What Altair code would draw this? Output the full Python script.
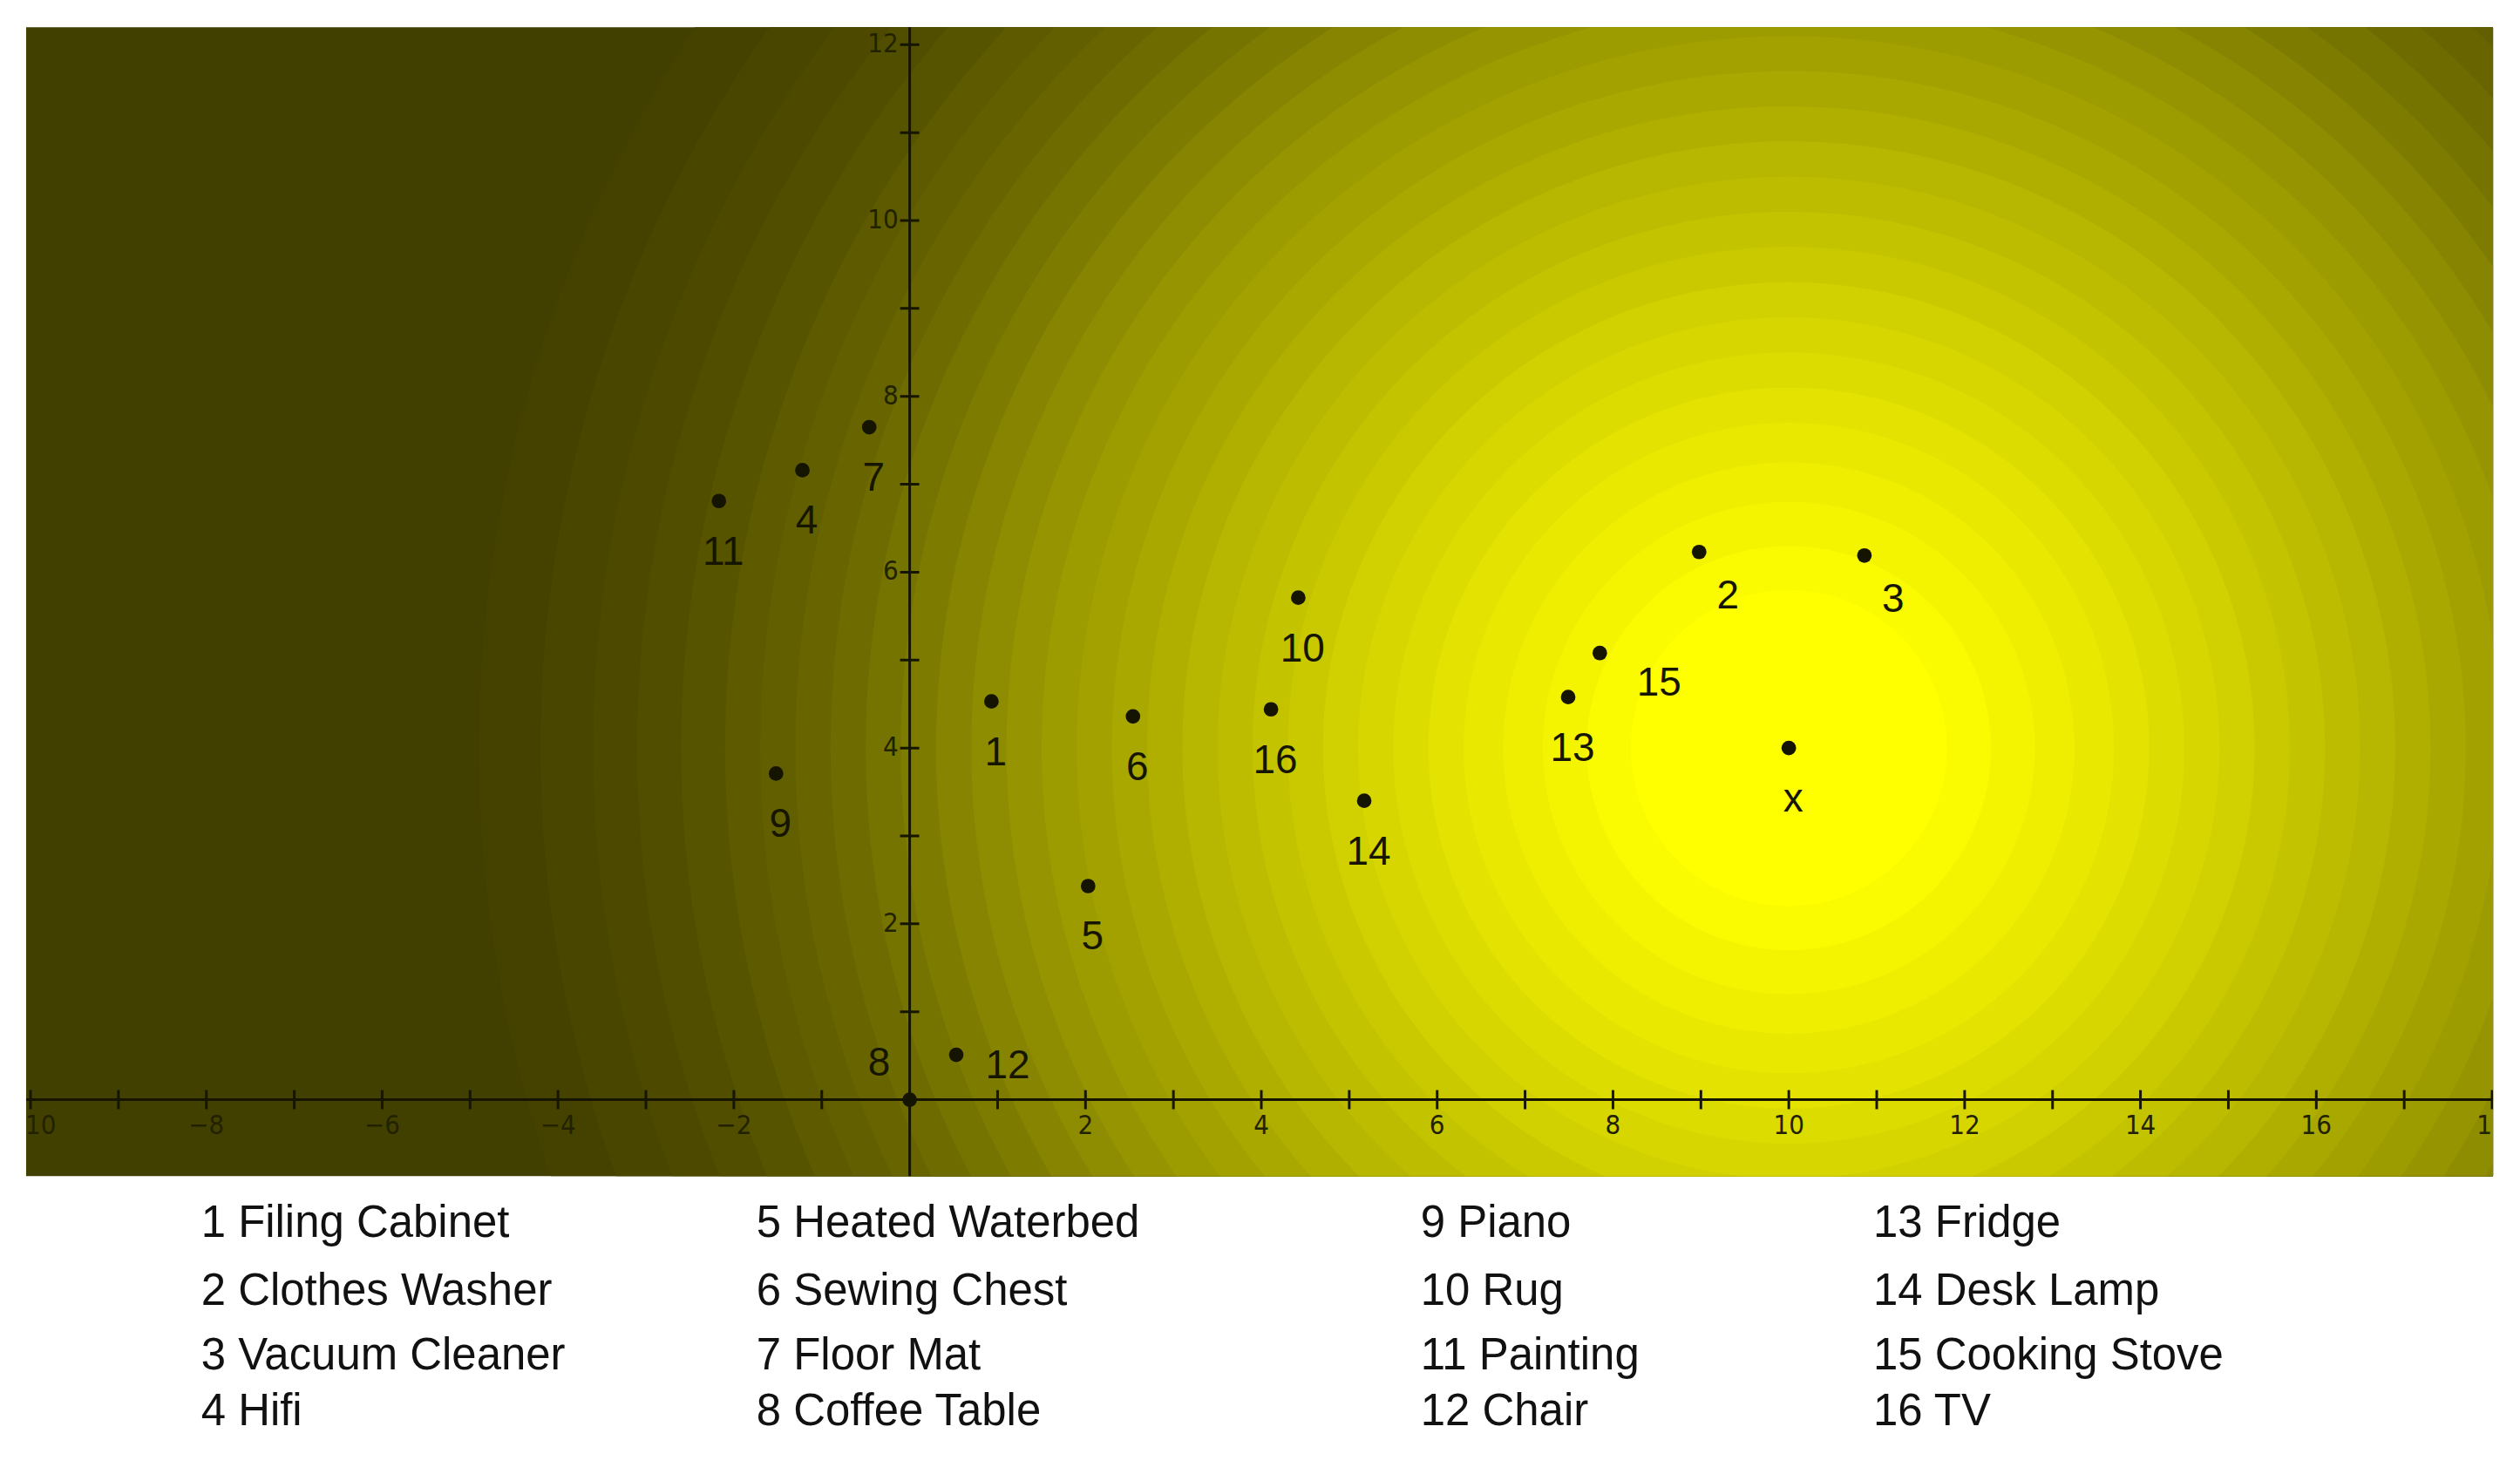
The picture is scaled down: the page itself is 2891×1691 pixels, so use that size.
import altair as alt
import pandas as pd

# ---------------- data ----------------
point_ids = ["1", "2", "3", "4", "5", "6", "7", "8", "9", "10", "11", "12", "13", "14", "15", "16", "x"]
point_x = [0.93, 8.98, 10.86, -1.22, 2.03, 2.54, -0.46, 0.0, -1.52, 4.42, -2.17, 0.53, 7.49, 5.17, 7.85, 4.11, 10.0]
point_y = [4.53, 6.23, 6.19, 7.16, 2.43, 4.36, 7.65, 0.0, 3.71, 5.71, 6.81, 0.51, 4.58, 3.40, 5.08, 4.44, 4.0]
label_place = ["below", "belowright", "belowright", "below", "below", "below", "below", "upleft",
               "below", "below", "below", "right", "below", "below", "rightbelow", "below", "below"]

item_names = ["Filing Cabinet", "Clothes Washer", "Vacuum Cleaner", "Hifi",
              "Heated Waterbed", "Sewing Chest", "Floor Mat", "Coffee Table",
              "Piano", "Rug", "Painting", "Chair",
              "Fridge", "Desk Lamp", "Cooking Stove", "TV"]

x_tick_values = list(range(-10, 19))
x_tick_labels = [-10, -8, -6, -4, -2, 2, 4, 6, 8, 10, 12, 14, 16, 18]
y_tick_values = list(range(1, 13))
y_tick_labels = [2, 4, 6, 8, 10, 12]

# background: concentric bands around the target point (10, 4)
center_x, center_y = 10.0, 4.0
band_radii = [1.8, 2.3, 2.8, 3.25, 3.7, 4.1, 4.5, 4.9, 5.3, 5.7, 6.1, 6.5, 6.9, 7.3, 7.7,
              8.1, 8.5, 8.9, 9.3, 9.7, 10.1, 10.5, 10.9, 11.3, 11.7, 12.1, 12.6, 13.1,
              13.6, 14.2, 14.9]
shade_stops = [0, 1.8, 3, 5, 7, 9, 10, 11, 12, 13, 14, 15, 22]
shade_colors = ["#ffff00", "#ffff00", "#f2f200", "#d6d500", "#b5b400", "#949200",
                "#807e00", "#6c6900", "#5e5b00", "#524f00", "#4a4700", "#444100", "#424000"]

# ---------------- layout ----------------
X_MIN, X_MAX = -10.05, 18.01
Y_MIN, Y_MAX = -0.87, 12.2
W, H = 2834, 1320
KEY_H = 310
PPU = W / (X_MAX - X_MIN)
FONT = "Liberation Sans, Arial, sans-serif"
TICK_FONT = "DejaVu Sans Condensed, Liberation Sans Narrow, sans-serif"
INK = "#161600"

xs = alt.Scale(domain=[X_MIN, X_MAX], nice=False, zero=False)
ys = alt.Scale(domain=[Y_MIN, Y_MAX], nice=False, zero=False)

pts = pd.DataFrame({"id": point_ids, "x": point_x, "y": point_y, "place": label_place})
bands = pd.DataFrame({"r": band_radii, "cx": center_x, "cy": center_y})

background = alt.Chart(bands).mark_point(
    filled=True, shape="circle", opacity=1, strokeWidth=0, clip=True
).encode(
    x=alt.X("cx:Q", scale=xs, axis=None),
    y=alt.Y("cy:Q", scale=ys, axis=None),
    size=alt.Size("r:Q", scale=alt.Scale(type="pow", exponent=2, domain=[0, 16],
                                         range=[0, (2 * 16 * PPU) ** 2]), legend=None),
    color=alt.Color("r:Q", scale=alt.Scale(domain=shade_stops, range=shade_colors,
                                           interpolate="rgb"), legend=None),
    order=alt.Order("r:Q", sort="descending"),
)

zero_df = pd.DataFrame({"v": [0]})
x_axis_line = alt.Chart(zero_df).mark_rule(color=INK, strokeWidth=3).encode(
    y=alt.Y("v:Q", scale=ys, axis=None))
y_axis_line = alt.Chart(zero_df).mark_rule(color=INK, strokeWidth=3).encode(
    x=alt.X("v:Q", scale=xs, axis=None))

xt = pd.DataFrame({"t": x_tick_values, "zero": 0})
yt = pd.DataFrame({"t": y_tick_values, "zero": 0})
xl = pd.DataFrame({"t": x_tick_labels, "zero": 0})
yl = pd.DataFrame({"t": y_tick_labels, "zero": 0})

x_ticks = alt.Chart(xt).mark_tick(
    orient="vertical", size=22, thickness=3, color=INK, opacity=1, clip=True
).encode(x=alt.X("t:Q", scale=xs, axis=None), y=alt.Y("zero:Q", scale=ys, axis=None))

y_ticks = alt.Chart(yt).mark_tick(
    orient="horizontal", size=22, thickness=3, color=INK, opacity=1, clip=True
).encode(y=alt.Y("t:Q", scale=ys, axis=None), x=alt.X("zero:Q", scale=xs, axis=None))

x_tick_text = alt.Chart(xl).mark_text(
    font=TICK_FONT, fontSize=31, color="#222200", baseline="middle", align="center", dy=30, clip=True
).encode(x=alt.X("t:Q", scale=xs, axis=None), y=alt.Y("zero:Q", scale=ys, axis=None),
         text=alt.Text("t:Q"))

y_tick_text = alt.Chart(yl).mark_text(
    font=TICK_FONT, fontSize=31, color="#222200", baseline="middle", align="right", dx=-13, clip=True
).encode(y=alt.Y("t:Q", scale=ys, axis=None), x=alt.X("zero:Q", scale=xs, axis=None),
         text=alt.Text("t:Q"))

dots = alt.Chart(pts).mark_circle(size=280, color="#141400", opacity=1).encode(
    x=alt.X("x:Q", scale=xs, axis=None), y=alt.Y("y:Q", scale=ys, axis=None))

label_offsets = {"below": (5, 59), "belowright": (33, 51), "right": (59, 13),
                 "rightbelow": (68, 35), "upleft": (-35, -42)}
label_layers = []
for place, (ddx, ddy) in label_offsets.items():
    label_layers.append(
        alt.Chart(pts).transform_filter(alt.datum.place == place).mark_text(
            font=FONT, fontSize=46, color=INK, align="center", baseline="middle", dx=ddx, dy=ddy
        ).encode(x=alt.X("x:Q", scale=xs, axis=None), y=alt.Y("y:Q", scale=ys, axis=None),
                 text="id:N")
    )

plot = alt.layer(background, x_axis_line, y_axis_line, x_ticks, y_ticks,
                 x_tick_text, y_tick_text, dots, *label_layers).properties(
    width=W, height=H, view=alt.ViewBackground(fill="#424000", stroke=None))

# ---------------- key below the plot ----------------
key = pd.DataFrame({"num": list(range(1, 17)), "name": item_names})
key_chart = alt.Chart(key).transform_calculate(
    col="floor((datum.num - 1) / 4)",
    row="(datum.num - 1) % 4",
    label="datum.num + ' ' + datum.name",
).mark_text(font=FONT, fontSize=51, color="#111111", align="left", baseline="middle").encode(
    x=alt.X("col:Q", scale=alt.Scale(domain=[0, 1, 2, 3], range=[201, 839, 1602, 2122]), axis=None),
    y=alt.Y("row:Q", scale=alt.Scale(domain=[0, 1, 2, 3], range=[43, 121, 195, 259]), axis=None),
    text="label:N",
).properties(width=W, height=KEY_H, view=alt.ViewBackground(fill="white", stroke=None))

chart = alt.vconcat(plot, key_chart, spacing=10).properties(
    padding={"left": 20, "top": 20, "right": 21, "bottom": 15},
    background="white",
).configure_view(stroke=None)

chart.save("out.html", embed_options={"renderer": "svg", "actions": False})
